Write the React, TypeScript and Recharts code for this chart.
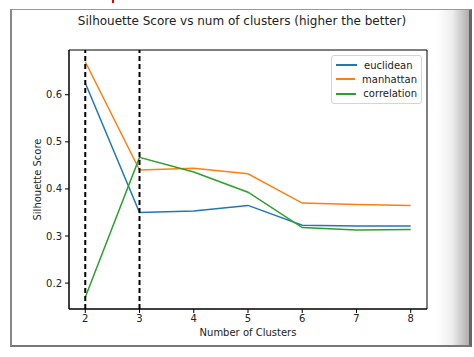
import React from 'react'
import {
  LineChart, Line, XAxis, YAxis, ReferenceLine, ReferenceArea,
} from 'recharts'

const clusters = [2, 3, 4, 5, 6, 7, 8]
const euclidean = [0.625, 0.350, 0.353, 0.365, 0.323, 0.321, 0.321]
const manhattan = [0.670, 0.440, 0.444, 0.432, 0.370, 0.367, 0.365]
const correlation = [0.170, 0.467, 0.436, 0.393, 0.318, 0.313, 0.314]
const xTicks = [2, 3, 4, 5, 6, 7, 8]
const yTicks = [0.2, 0.3, 0.4, 0.5, 0.6]
const chosenK = [2, 3]

const SERIES = [
  { key: 'euclidean', color: '#1f77b4' },
  { key: 'manhattan', color: '#ff7f0e' },
  { key: 'correlation', color: '#2ca02c' },
]

const data = clusters.map((k, i) => ({
  k,
  euclidean: euclidean[i],
  manhattan: manhattan[i],
  correlation: correlation[i],
}))

const X_DOMAIN: [number, number] = [1.7, 8.3]
const Y_DOMAIN: [number, number] = [0.145, 0.695]

const FONT = '"DejaVu Sans", sans-serif'
const tick = { fontSize: 10, fill: '#222', fontFamily: FONT }

export default function App() {
  return (
    <div style={{ position: 'fixed', left: 0, top: 0, width: 474, height: 357, background: '#fff', overflow: 'hidden' }}>
      {/* figure frame with the shaded right edge */}
      <div style={{
        position: 'absolute', left: 10, top: 9, width: 462, height: 338,
        borderLeft: '2px solid #888', borderTop: '1px solid #999', borderBottom: '2px solid #777',
        borderRight: '3px solid #666', boxSizing: 'border-box',
        background: 'linear-gradient(to right, #fff 0, #fff 425px, #eee 440px, #aaa 458px)',
      }} />
      <div style={{ position: 'absolute', left: 112, top: 0, width: 2, height: 3, background: '#e00' }} />
      <div style={{
        position: 'absolute', left: 0, top: 14, width: 484, textAlign: 'center',
        fontFamily: FONT, fontSize: 12, color: '#222',
      }}>
        Silhouette Score vs num of clusters (higher the better)
      </div>
      <div style={{ position: 'absolute', left: 0, top: 0 }}>
        <LineChart width={474} height={357} data={data}
          margin={{ top: 50, right: 47, bottom: 18, left: 34 }}>
          <XAxis dataKey="k" type="number" domain={X_DOMAIN} ticks={xTicks}
            allowDataOverflow tick={tick} tickSize={4} tickMargin={2}
            axisLine={{ stroke: '#000' }} tickLine={{ stroke: '#000' }} height={30}
            label={{ value: 'Number of Clusters', position: 'insideBottom', offset: 3, style: tick }} />
          <YAxis type="number" domain={Y_DOMAIN} ticks={yTicks} allowDataOverflow
            tickFormatter={(v) => v.toFixed(1)} tick={tick} tickSize={4} tickMargin={3}
            axisLine={{ stroke: '#000' }} tickLine={{ stroke: '#000' }} width={35}
            label={{ value: 'Silhouette Score', angle: -90, position: 'insideLeft', offset: 3, style: { ...tick, textAnchor: 'middle' } }} />
          {/* axes box */}
          <ReferenceArea x1={X_DOMAIN[0]} x2={X_DOMAIN[1]} y1={Y_DOMAIN[0]} y2={Y_DOMAIN[1]}
            fill="none" fillOpacity={0} stroke="#000" strokeWidth={1} />
          {SERIES.map((s) => (
            <Line key={s.key} dataKey={s.key} name={s.key} stroke={s.color} strokeWidth={1.5}
              dot={false} isAnimationActive={false} />
          ))}
          {chosenK.map((k) => (
            <ReferenceLine key={k} x={k} stroke="#000" strokeWidth={2} strokeDasharray="5 3" />
          ))}
        </LineChart>
      </div>
      {/* legend, upper right like matplotlib */}
      <div style={{
        position: 'absolute', left: 331, top: 55, width: 91, boxSizing: 'border-box',
        border: '1px solid #d5d5d5', borderRadius: 3, background: 'rgba(255,255,255,0.8)',
        padding: '2px 4px', fontFamily: FONT, fontSize: 10, color: '#222',
      }}>
        {SERIES.map((s) => (
          <div key={s.key} style={{ display: 'flex', alignItems: 'center', height: 14.3 }}>
            <span style={{ display: 'inline-block', width: 21, height: 2, background: s.color, marginRight: 7 }} />
            {s.key}
          </div>
        ))}
      </div>
    </div>
  )
}
